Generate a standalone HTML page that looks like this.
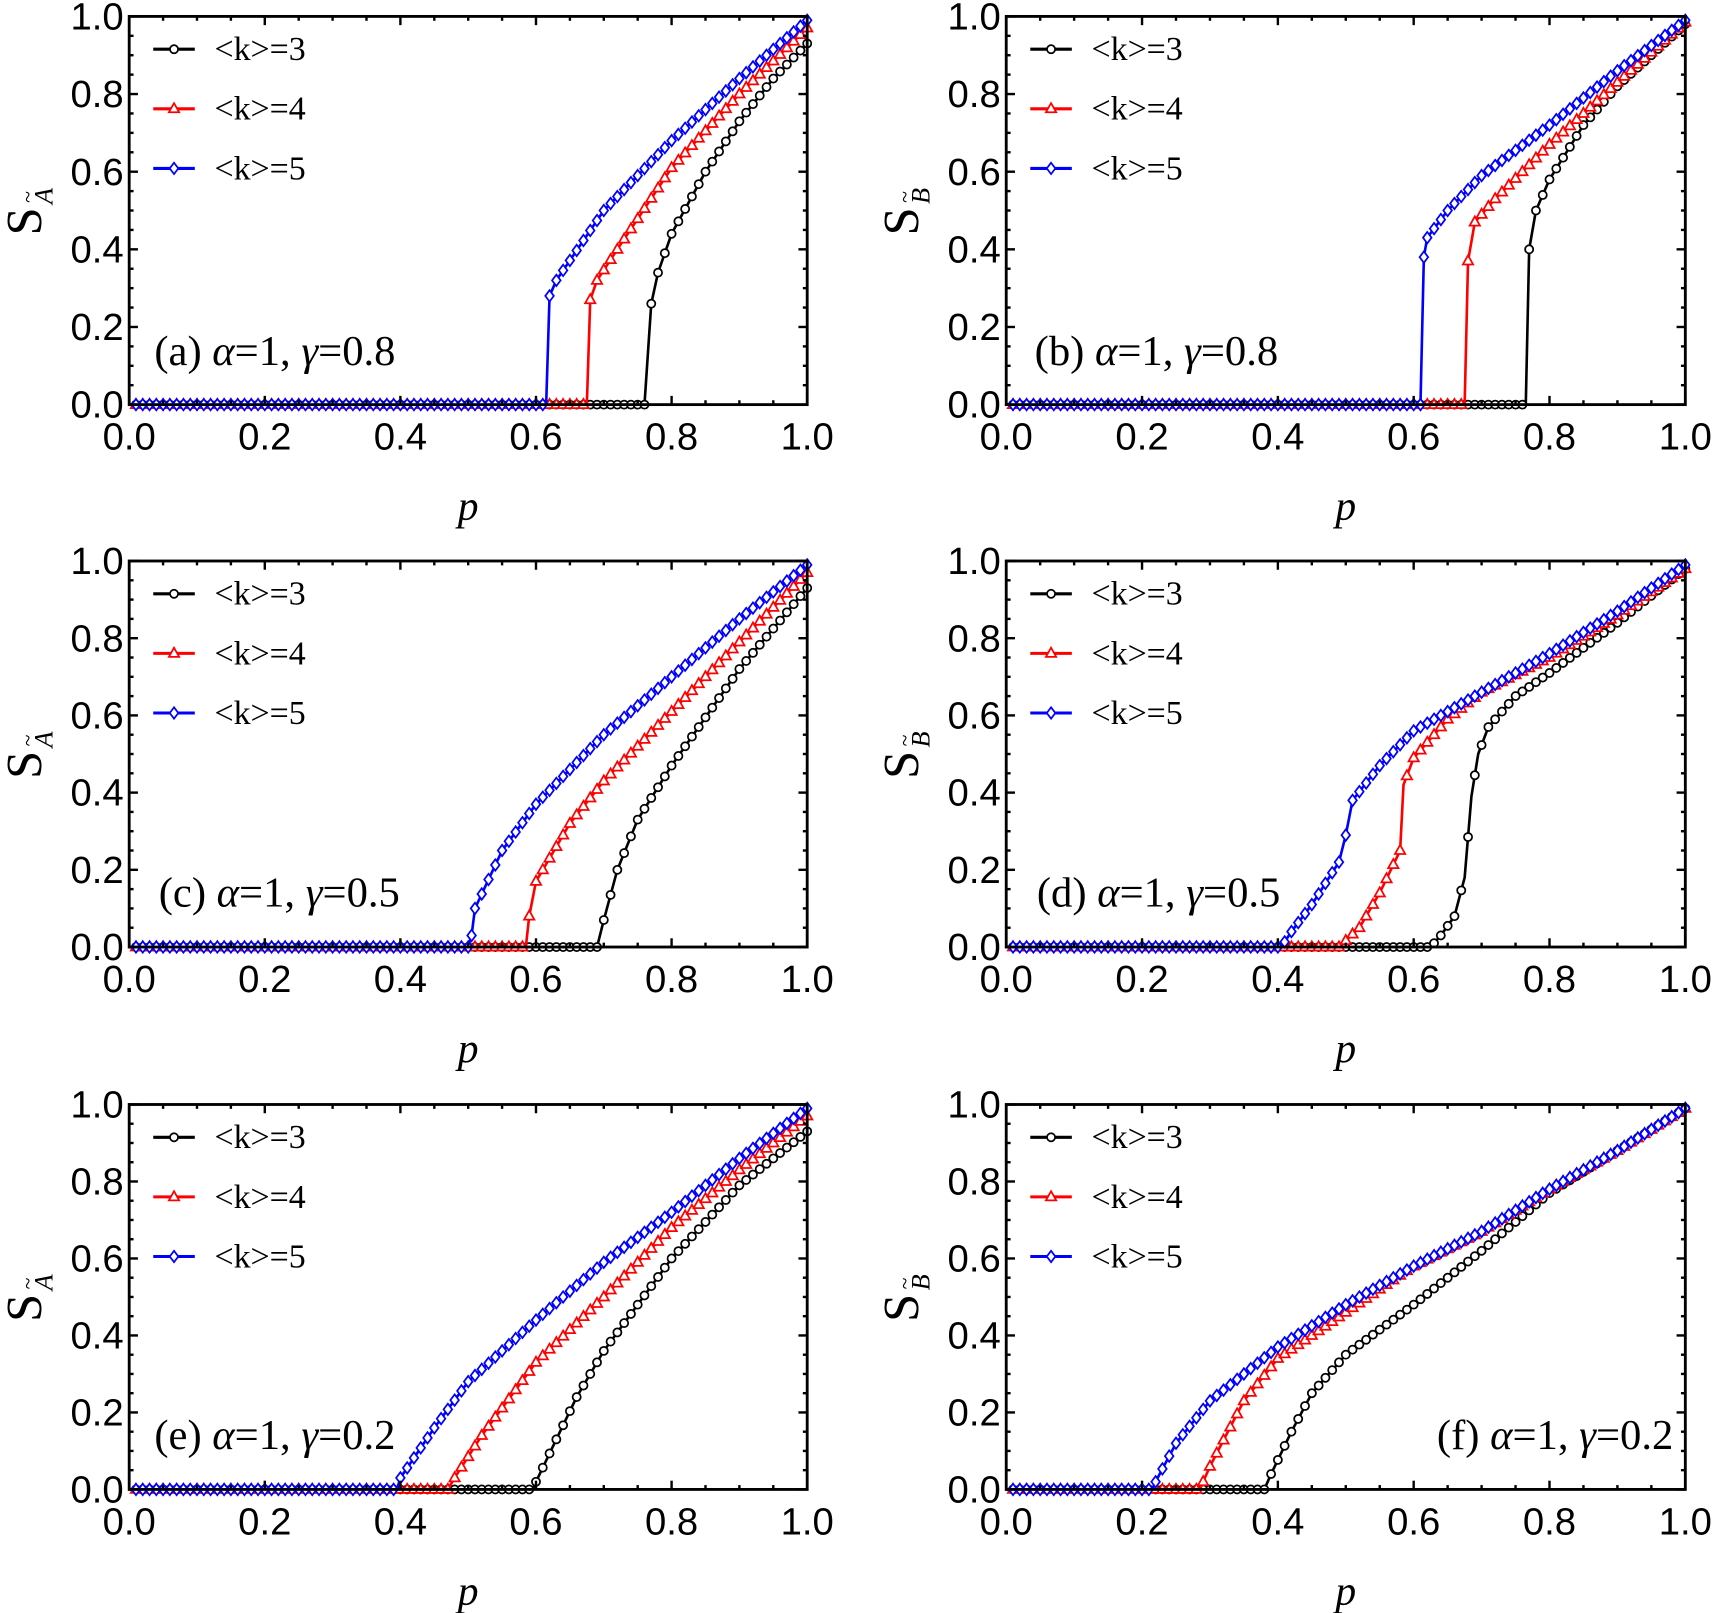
<!DOCTYPE html>
<html><head><meta charset="utf-8"><style>
html,body{margin:0;padding:0;background:#fff;}
svg{display:block;}
.tk{font-family:"Liberation Sans",sans-serif;font-size:35px;fill:#000;}
.lg{font-family:"Liberation Serif",serif;font-size:31px;fill:#000;}
.an{font-family:"Liberation Serif",serif;font-size:39px;fill:#000;}
.ax{font-family:"Liberation Serif",serif;font-size:38px;font-style:italic;fill:#000;}
</style></head><body>
<svg id="s" width="1715" height="1613" viewBox="0 0 1568 1475" xmlns="http://www.w3.org/2000/svg"></svg>
<script>
const svg=document.getElementById('s');
let out='';
const panels=[
 {L:118,R:738,T:15,B:370,y:'A',lab:'(a)  ',g:'0.8',ax:141,ay:334,anchor:'start',
  s:[[[0,0],[.76,0],[.77,.26],[.78,.34],[.8,.44],[.85,.6],[.9,.73],[.95,.84],[1,.93]],
     [[0,0],[.675,0],[.68,.27],[.69,.32],[.72,.4],[.8,.61],[.9,.8],[1,.97]],
     [[0,0],[.615,0],[.62,.28],[.63,.32],[.7,.5],[.8,.68],[.9,.84],[1,.99]]]},
 {L:920,R:1541,T:15,B:370,y:'B',lab:'(b) ',g:'0.8',ax:946,ay:334,anchor:'start',
  s:[[[0,0],[.765,0],[.77,.4],[.78,.5],[.8,.58],[.85,.72],[.9,.82],[1,.98]],
     [[0,0],[.675,0],[.68,.37],[.69,.47],[.72,.53],[.8,.67],[.9,.83],[1,.985]],
     [[0,0],[.61,0],[.615,.38],[.62,.43],[.65,.5],[.7,.59],[.8,.72],[.9,.86],[1,.99]]]},
 {L:118,R:738,T:513,B:866,y:'A',lab:'(c) ',g:'0.5',ax:145,ay:829,anchor:'start',
  s:[[[0,0],[.69,0],[.70,.07],[.72,.2],[.75,.33],[.8,.47],[.9,.72],[1,.93]],
     [[0,0],[.585,0],[.59,.08],[.6,.17],[.65,.32],[.7,.43],[.8,.61],[.9,.79],[1,.97]],
     [[0,0],[.5,0],[.505,.03],[.51,.1],[.55,.25],[.6,.37],[.7,.55],[.8,.7],[.9,.85],[1,.99]]]},
 {L:920,R:1541,T:513,B:866,y:'B',lab:'(d) ',g:'0.5',ax:948,ay:829,anchor:'start',
  s:[[[0,0],[.625,0],[.64,.03],[.66,.08],[.675,.18],[.685,.39],[.695,.5],[.71,.57],[.75,.65],[.8,.71],[.9,.84],[1,.98]],
     [[0,0],[.49,0],[.52,.05],[.55,.14],[.58,.25],[.585,.42],[.6,.49],[.65,.59],[.7,.66],[.8,.75],[.9,.86],[1,.98]],
     [[0,0],[.405,0],[.42,.04],[.45,.11],[.49,.22],[.5,.29],[.51,.38],[.55,.47],[.6,.56],[.7,.66],[.8,.76],[.9,.87],[1,.99]]]},
 {L:118,R:738,T:1010,B:1362,y:'A',lab:'(e)  ',g:'0.2',ax:141,ay:1325,anchor:'start',
  s:[[[0,0],[.595,0],[.6,.02],[.63,.13],[.66,.24],[.7,.36],[.8,.6],[.9,.79],[1,.93]],
     [[0,0],[.47,0],[.48,.03],[.52,.14],[.6,.33],[.7,.5],[.8,.68],[.9,.83],[1,.97]],
     [[0,0],[.395,0],[.4,.03],[.45,.16],[.5,.28],[.6,.44],[.7,.59],[.8,.72],[.9,.86],[1,.99]]]},
 {L:920,R:1541,T:1010,B:1362,y:'B',lab:'(f) ',g:'0.2',ax:1530,ay:1325,anchor:'end',
  s:[[[0,0],[.38,0],[.39,.04],[.42,.15],[.45,.25],[.5,.35],[.6,.48],[.7,.62],[.8,.77],[.9,.88],[1,.99]],
     [[0,0],[.285,0],[.3,.06],[.35,.23],[.4,.34],[.5,.46],[.6,.58],[.7,.67],[.8,.78],[.9,.88],[1,.99]],
     [[0,0],[.215,0],[.22,.02],[.25,.12],[.3,.23],[.4,.37],[.5,.48],[.6,.58],[.7,.67],[.8,.78],[.9,.88],[1,.99]]]}
];
const cols=['#000','#f00','#00f'];
function marker(k,x,y,c){
 if(k==0) return `<circle cx="${x.toFixed(1)}" cy="${y.toFixed(1)}" r="3.7" fill="#fff" stroke="${c}" stroke-width="1.6"/>`;
 if(k==1) return `<polygon points="${x},${y-5.2} ${x+4.7},${y+3.2} ${x-4.7},${y+3.2}" fill="#fff" stroke="${c}" stroke-width="1.6"/>`;
 return `<polygon points="${x},${y-5.2} ${x+3.9},${y} ${x},${y+5.2} ${x-3.9},${y}" fill="#fff" stroke="${c}" stroke-width="1.6"/>`;
}
function interp(kn,p){
 for(let i=0;i<kn.length-1;i++){ if(p<=kn[i+1][0]){const t=(p-kn[i][0])/(kn[i+1][0]-kn[i][0]);return kn[i][1]+(kn[i+1][1]-kn[i][1])*t;} }
 return kn[kn.length-1][1];
}
panels.forEach(P=>{
 const W=P.R-P.L,H=P.B-P.T;
 const X=p=>P.L+p*W, Y=s=>P.B-s*H;
 P.s.forEach((kn,k)=>{
  const pts=kn.map(a=>[X(a[0]),Y(a[1])]);
  out+=`<polyline points="${pts.map(a=>a[0].toFixed(1)+','+a[1].toFixed(1)).join(' ')}" fill="none" stroke="${cols[k]}" stroke-width="2.4" stroke-linejoin="round"/>`;
  for(let i=1;i<=100;i++){
   const p=i/100;
   out+=marker(k,X(p),Y(interp(kn,p)),cols[k]);
  }
  const pj=kn[2][0]; if(Math.round(pj*100)!==pj*100) out+=marker(k,X(pj),Y(kn[2][1]),cols[k]);
 });
 out+=`<rect x="${P.L}" y="${P.T}" width="${W}" height="${H}" fill="none" stroke="#000" stroke-width="2.6"/>`;
 for(let i=0;i<=20;i++){
  const v=i/20,maj=i%4==0,l=maj?8:4;
  const x=X(v),y=Y(v);
  out+=`<line x1="${x}" y1="${P.B}" x2="${x}" y2="${P.B-l}" stroke="#000" stroke-width="2.2"/><line x1="${x}" y1="${P.T}" x2="${x}" y2="${P.T+l}" stroke="#000" stroke-width="2.2"/>`;
  out+=`<line x1="${P.L}" y1="${y}" x2="${P.L+l}" y2="${y}" stroke="#000" stroke-width="2.2"/><line x1="${P.R}" y1="${y}" x2="${P.R-l}" y2="${y}" stroke="#000" stroke-width="2.2"/>`;
  if(maj){
   out+=`<text class="tk" x="${x}" y="${P.B+41}" text-anchor="middle">${v.toFixed(1)}</text>`;
   out+=`<text class="tk" x="${P.L-5}" y="${y+12}" text-anchor="end">${v.toFixed(1)}</text>`;
  }
 }
 out+=`<text class="ax" x="${(P.L+P.R)/2}" y="${P.B+105}" text-anchor="middle">p</text>`;
 const cy=(P.T+P.B)/2;
 out+=`<g transform="translate(${P.L-80},${cy}) rotate(-90)"><text class="ax" x="-10" y="0" text-anchor="middle" style="font-size:46px;font-style:normal">S</text><text class="ax" x="6" y="10" style="font-size:24px">${P.y}</text><text x="7" y="-6" style="font-family:'Liberation Serif',serif;font-size:20px">~</text></g>`;
 ['3','4','5'].forEach((n,k)=>{
  const ly=P.T+30+k*54.5;
  out+=`<line x1="${P.L+22}" y1="${ly}" x2="${P.L+60}" y2="${ly}" stroke="${cols[k]}" stroke-width="2.8"/>`+marker(k,P.L+41,ly,cols[k]);
  out+=`<text class="lg" x="${P.L+78}" y="${ly+10}">&lt;k&gt;=${n}</text>`;
 });
 out+=`<text class="an" x="${P.ax}" y="${P.ay}" text-anchor="${P.anchor}">${P.lab}<tspan font-style="italic">α</tspan>=1, <tspan font-style="italic">γ</tspan>=${P.g}</text>`;
});
svg.innerHTML=out;
</script>
</body></html>
